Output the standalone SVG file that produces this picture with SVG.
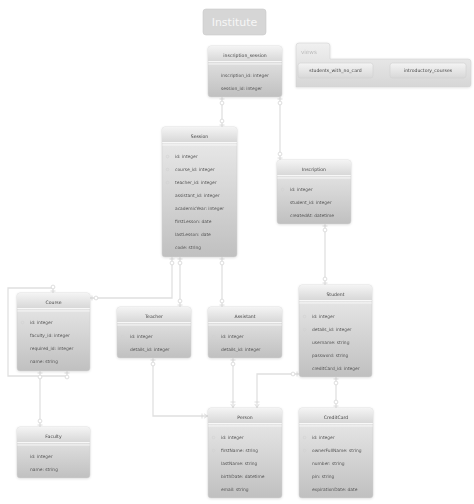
<svg xmlns="http://www.w3.org/2000/svg" width="474" height="504" viewBox="0 0 474 504">
<style>
.t{font-family:"DejaVu Sans",sans-serif;font-size:4.4px;fill:#555}
.h{font-family:"DejaVu Sans",sans-serif;font-size:4.6px;fill:#444;text-anchor:middle}
.body{fill:url(#gBody);stroke:#d2d2d2;stroke-width:0.6}
.head{fill:url(#gHead)}
.sep{fill:#fafafa}
.key{fill:none;stroke:#d0d0d0;stroke-width:0.6}
.c{fill:none;stroke:#e0e0e0;stroke-width:1.3;marker-start:url(#one);marker-end:url(#one)}
.ca{fill:none;stroke:#e0e0e0;stroke-width:1.3;marker-start:url(#one);marker-end:url(#arr)}
</style>
<defs>
<linearGradient id="gBody" x1="0" y1="0" x2="0" y2="1">
<stop offset="0" stop-color="#ececec"/><stop offset="1" stop-color="#c0c0c0"/>
</linearGradient>
<linearGradient id="gHead" x1="0" y1="0" x2="0" y2="1">
<stop offset="0" stop-color="#f4f4f4"/><stop offset="1" stop-color="#d8d8d8"/>
</linearGradient>
<linearGradient id="gView" x1="0" y1="0" x2="0" y2="1">
<stop offset="0" stop-color="#f0f0f0"/><stop offset="1" stop-color="#d6d6d6"/>
</linearGradient>
<filter id="sh" x="-10%" y="-10%" width="120%" height="120%">
<feDropShadow dx="0" dy="0.6" stdDeviation="0.8" flood-color="#000" flood-opacity="0.12"/>
</filter>
<marker id="one" viewBox="0 0 10 8" refX="10" refY="4" markerWidth="10" markerHeight="8" markerUnits="userSpaceOnUse" orient="auto-start-reverse">
<line x1="8" y1="1.5" x2="8" y2="6.5" stroke="#d6d6d6" stroke-width="0.8"/>
<circle cx="4" cy="4" r="1.9" fill="#fff" stroke="#d6d6d6" stroke-width="0.8"/>
</marker>
<marker id="arr" viewBox="0 0 10 8" refX="10" refY="4" markerWidth="10" markerHeight="8" markerUnits="userSpaceOnUse" orient="auto-start-reverse">
<line x1="4" y1="1.5" x2="4" y2="6.5" stroke="#d6d6d6" stroke-width="0.8"/>
<path d="M6,1.8 L9.5,4 L6,6.2" fill="none" stroke="#d6d6d6" stroke-width="0.8"/>
</marker>
</defs>
<rect width="474" height="504" fill="#fff"/>

<g id="connectors">
<path class="c" d="M222,97 V127"/>
<path class="c" d="M280,97 V160"/>
<path class="c" d="M325,224 V285"/>
<path class="c" d="M172,257 V298 H90"/>
<path class="c" d="M180,257 V307"/>
<path class="c" d="M222,257 V307"/>
<path class="c" d="M53,293 V288 H8 V376 H67 V371"/>
<path class="c" d="M40,371 V427"/>
<path class="ca" d="M153,358 V416 H208"/>
<path class="ca" d="M233,358 V408"/>
<path class="ca" d="M299,374 H257 V408"/>
<path class="c" d="M336,377 V408"/>
</g>

<g id="title">
<rect x="203" y="9" width="63" height="26" rx="3" fill="#d6d6d6" stroke="#cacaca" stroke-width="0.6"/>
<text x="234.5" y="26" font-family="DejaVu Sans,sans-serif" font-size="11" fill="#f6f6f6" text-anchor="middle">Institute</text>
</g>

<g id="views" filter="url(#sh)">
<path d="M296,87 V46 Q296,43 299,43 H327 Q330,43 330,46 V59 H468 Q471,59 471,62 V84 Q471,87 468,87 Z" fill="url(#gView)" stroke="#d4d4d4" stroke-width="0.6"/>
<text x="301" y="54" font-family="DejaVu Sans,sans-serif" font-size="5.6" fill="#bcbcbc">views</text>
<g id="students_with_no_card">
<rect x="298" y="63" width="75" height="15" rx="2.5" fill="url(#gHead)" stroke="#d0d0d0" stroke-width="0.6"/>
<text class="h" x="335.5" y="72.3">students_with_no_card</text>
</g>
<g id="introductory_courses">
<rect x="390" y="63" width="76" height="15" rx="2.5" fill="url(#gHead)" stroke="#d0d0d0" stroke-width="0.6"/>
<text class="h" x="428" y="72.3">introductory_courses</text>
</g>
</g>

<g id="inscription_session" filter="url(#sh)">
<rect class="body" x="208" y="46" width="74" height="51" rx="3"/>
<path class="head" d="M208,61 V49 Q208,46 211,46 H279 Q282,46 282,49 V61 Z"/>
<rect class="sep" x="208.3" y="61" width="73.4" height="0.9"/><rect class="sep" x="208.3" y="63.5" width="73.4" height="0.9"/>
<text class="h" x="245" y="57">inscription_session</text>
<text class="t" x="221" y="77">inscription_id: integer</text>
<text class="t" x="221" y="90">session_id: integer</text>
</g>

<g id="Session" filter="url(#sh)">
<rect class="body" x="162" y="127" width="75" height="130" rx="3"/>
<path class="head" d="M162,142 V130 Q162,127 165,127 H234 Q237,127 237,130 V142 Z"/>
<rect class="sep" x="162.3" y="142" width="74.4" height="0.9"/><rect class="sep" x="162.3" y="144.5" width="74.4" height="0.9"/>
<text class="h" x="199.5" y="138">Session</text>
<circle class="key" cx="167.5" cy="156.5" r="1.3"/><circle class="key" cx="167.5" cy="169.5" r="1.3"/><circle class="key" cx="167.5" cy="182.5" r="1.3"/>
<text class="t" x="175" y="158">id: integer</text>
<text class="t" x="175" y="171">course_id: integer</text>
<text class="t" x="175" y="184">teacher_id: integer</text>
<text class="t" x="175" y="197">assistant_id: integer</text>
<text class="t" x="175" y="210">academicYear: integer</text>
<text class="t" x="175" y="223">firstLesson: date</text>
<text class="t" x="175" y="236">lastLesson: date</text>
<text class="t" x="175" y="249">code: string</text>
</g>

<g id="Inscription" filter="url(#sh)">
<rect class="body" x="277" y="160" width="74" height="64" rx="3"/>
<path class="head" d="M277,175 V163 Q277,160 280,160 H348 Q351,160 351,163 V175 Z"/>
<rect class="sep" x="277.3" y="175" width="73.4" height="0.9"/><rect class="sep" x="277.3" y="177.5" width="73.4" height="0.9"/>
<text class="h" x="314" y="171">Inscription</text>
<circle class="key" cx="282.5" cy="189.5" r="1.3"/><circle class="key" cx="282.5" cy="202.5" r="1.3"/>
<text class="t" x="290" y="191">id: integer</text>
<text class="t" x="290" y="204">student_id: integer</text>
<text class="t" x="290" y="217">createdAt: datetime</text>
</g>

<g id="Course" filter="url(#sh)">
<rect class="body" x="17" y="293" width="73" height="78" rx="3"/>
<path class="head" d="M17,308 V296 Q17,293 20,293 H87 Q90,293 90,296 V308 Z"/>
<rect class="sep" x="17.3" y="308" width="72.4" height="0.9"/><rect class="sep" x="17.3" y="310.5" width="72.4" height="0.9"/>
<text class="h" x="53.5" y="304">Course</text>
<circle class="key" cx="22.5" cy="322.5" r="1.3"/>
<text class="t" x="30" y="324">id: integer</text>
<text class="t" x="30" y="337">faculty_id: integer</text>
<text class="t" x="30" y="350">required_id: integer</text>
<text class="t" x="30" y="363">name: string</text>
</g>

<g id="Teacher" filter="url(#sh)">
<rect class="body" x="117" y="307" width="74" height="51" rx="3"/>
<path class="head" d="M117,322 V310 Q117,307 120,307 H188 Q191,307 191,310 V322 Z"/>
<rect class="sep" x="117.3" y="322" width="73.4" height="0.9"/><rect class="sep" x="117.3" y="324.5" width="73.4" height="0.9"/>
<text class="h" x="154" y="318">Teacher</text>
<circle class="key" cx="122.5" cy="336.5" r="1.3"/>
<text class="t" x="130" y="338">id: integer</text>
<text class="t" x="130" y="351">details_id: integer</text>
</g>

<g id="Assistant" filter="url(#sh)">
<rect class="body" x="208" y="307" width="74" height="51" rx="3"/>
<path class="head" d="M208,322 V310 Q208,307 211,307 H279 Q282,307 282,310 V322 Z"/>
<rect class="sep" x="208.3" y="322" width="73.4" height="0.9"/><rect class="sep" x="208.3" y="324.5" width="73.4" height="0.9"/>
<text class="h" x="245" y="318">Assistant</text>
<circle class="key" cx="213.5" cy="336.5" r="1.3"/>
<text class="t" x="221" y="338">id: integer</text>
<text class="t" x="221" y="351">details_id: integer</text>
</g>

<g id="Student" filter="url(#sh)">
<rect class="body" x="299" y="285" width="73" height="92" rx="3"/>
<path class="head" d="M299,300 V288 Q299,285 302,285 H369 Q372,285 372,288 V300 Z"/>
<rect class="sep" x="299.3" y="300" width="72.4" height="0.9"/><rect class="sep" x="299.3" y="302.5" width="72.4" height="0.9"/>
<text class="h" x="335.5" y="296">Student</text>
<circle class="key" cx="304.5" cy="316.5" r="1.3"/><circle class="key" cx="304.5" cy="329.5" r="1.3"/>
<text class="t" x="312" y="318">id: integer</text>
<text class="t" x="312" y="331">details_id: integer</text>
<text class="t" x="312" y="344">username: string</text>
<text class="t" x="312" y="357">password: string</text>
<text class="t" x="312" y="370">creditCard_id: integer</text>
</g>

<g id="Faculty" filter="url(#sh)">
<rect class="body" x="17" y="427" width="73" height="51" rx="3"/>
<path class="head" d="M17,442 V430 Q17,427 20,427 H87 Q90,427 90,430 V442 Z"/>
<rect class="sep" x="17.3" y="442" width="72.4" height="0.9"/><rect class="sep" x="17.3" y="444.5" width="72.4" height="0.9"/>
<text class="h" x="53.5" y="438">Faculty</text>
<text class="t" x="30" y="458">id: integer</text>
<text class="t" x="30" y="471">name: string</text>
</g>

<g id="Person" filter="url(#sh)">
<rect class="body" x="208" y="408" width="74" height="90" rx="3"/>
<path class="head" d="M208,423 V411 Q208,408 211,408 H279 Q282,408 282,411 V423 Z"/>
<rect class="sep" x="208.3" y="423" width="73.4" height="0.9"/><rect class="sep" x="208.3" y="425.5" width="73.4" height="0.9"/>
<text class="h" x="245" y="419">Person</text>
<circle class="key" cx="213.5" cy="437.5" r="1.3"/><circle class="key" cx="213.5" cy="450.5" r="1.3"/>
<text class="t" x="221" y="439">id: integer</text>
<text class="t" x="221" y="452">firstName: string</text>
<text class="t" x="221" y="465">lastName: string</text>
<text class="t" x="221" y="478">birthDate: datetime</text>
<text class="t" x="221" y="491">email: string</text>
</g>

<g id="CreditCard" filter="url(#sh)">
<rect class="body" x="299" y="408" width="74" height="90" rx="3"/>
<path class="head" d="M299,423 V411 Q299,408 302,408 H370 Q373,408 373,411 V423 Z"/>
<rect class="sep" x="299.3" y="423" width="73.4" height="0.9"/><rect class="sep" x="299.3" y="425.5" width="73.4" height="0.9"/>
<text class="h" x="336" y="419">CreditCard</text>
<circle class="key" cx="304.5" cy="437.5" r="1.3"/><circle class="key" cx="304.5" cy="450.5" r="1.3"/>
<text class="t" x="312" y="439">id: integer</text>
<text class="t" x="312" y="452">ownerFullName: string</text>
<text class="t" x="312" y="465">number: string</text>
<text class="t" x="312" y="478">pin: string</text>
<text class="t" x="312" y="491">expirationDate: date</text>
</g>
</svg>
